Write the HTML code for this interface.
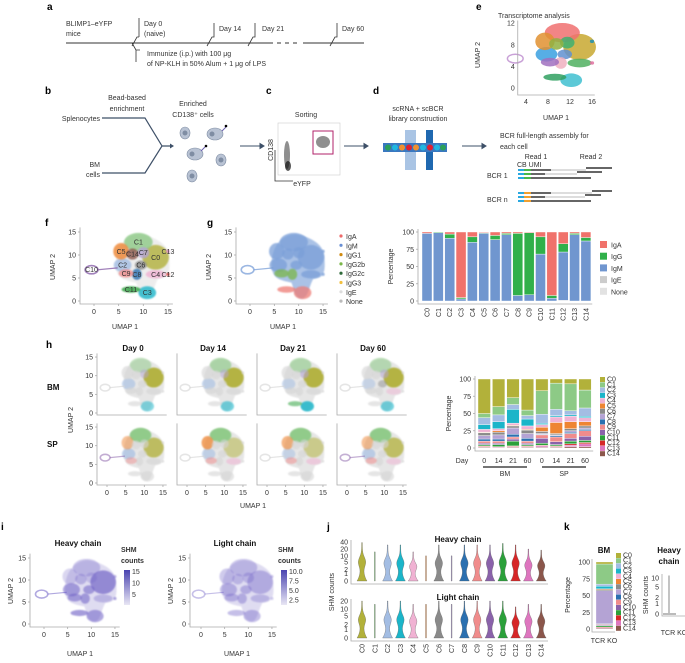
<!DOCTYPE html>
<html><head><meta charset="utf-8"><style>
html,body{margin:0;padding:0;background:#fff;}
svg{display:block;font-family:"Liberation Sans",sans-serif;}
text{fill:#333;font-size:7px;}
.lbl{font-weight:bold;font-size:10px;fill:#000;}
.ttl{font-weight:bold;font-size:8px;fill:#111;}
.ax{stroke:#aaa;stroke-width:0.8;fill:none;}
</style></head><body>
<svg id="fig" width="685" height="663" viewBox="0 0 685 663" xmlns="http://www.w3.org/2000/svg">
<defs><filter id="blur" x="-20%" y="-20%" width="140%" height="140%"><feGaussianBlur stdDeviation="0.8"/></filter></defs>
<!-- panel a -->
<g>
<text class="lbl" x="47" y="10">a</text>
<text x="66" y="26">BLIMP1–eYFP</text>
<text x="66" y="36">mice</text>
<path d="M66,43H273M277,43h4M285,43h4M293,43h4M303,43H364" stroke="#333" stroke-width="1" fill="none"/>
<path d="M132,46 L137,37 L139,37 M139,37 V18 M132,43 L136,50 V62 M136,50 H140" stroke="#333" stroke-width="0.8" fill="none"/>
<path d="M207,46 L212,37 L214,37 V23 M248,46 L253,37 L255,37 V23 M330,46 L335,37 L337,37 V23" stroke="#333" stroke-width="0.8" fill="none"/>
<text x="144" y="26">Day 0</text>
<text x="144" y="36">(naive)</text>
<text x="219" y="31">Day 14</text>
<text x="262" y="31">Day 21</text>
<text x="342" y="31">Day 60</text>
<text x="147" y="56">Immunize (i.p.) with 100 μg</text>
<text x="147" y="66">of NP-KLH in 50% Alum + 1 μg of LPS</text>
</g>
<!-- panel b -->
<g>
<text class="lbl" x="45" y="94">b</text>
<text x="127" y="100" text-anchor="middle">Bead-based</text>
<text x="127" y="111" text-anchor="middle">enrichment</text>
<text x="100" y="121" text-anchor="end">Splenocytes</text>
<text x="100" y="167" text-anchor="end">BM</text>
<text x="100" y="177" text-anchor="end">cells</text>
<path d="M102,118H145L162,146L145,173H102M162,146H170" stroke="#3e5068" stroke-width="1.2" fill="none"/>
<path d="M170,143.5L174,146L170,148.5Z" fill="#3e5068"/>
<text x="193" y="106" text-anchor="middle">Enriched</text>
<text x="193" y="117" text-anchor="middle">CD138⁺ cells</text>
<g fill="#b9c3d4" stroke="#7f8da3" stroke-width="0.6">
<ellipse cx="185" cy="133" rx="5" ry="6"/><ellipse cx="215" cy="134" rx="8" ry="6"/><ellipse cx="195" cy="154" rx="8" ry="6"/>
<ellipse cx="221" cy="160" rx="5" ry="6"/><ellipse cx="192" cy="176" rx="5" ry="6"/>
</g>
<g fill="#7f8da3">
<circle cx="185" cy="133" r="2.5"/><circle cx="212" cy="134" r="2.5"/><circle cx="192" cy="154" r="2.5"/><circle cx="221" cy="160" r="2.5"/><circle cx="192" cy="176" r="2.5"/>
</g>
<path d="M222,131l4,-4M201,151l4,-4" stroke="#6b5fb0" stroke-width="1"/>
<circle cx="226" cy="126" r="1.3" fill="#000"/><circle cx="206" cy="146" r="1.3" fill="#000"/>
<path d="M240,146H260M260,143.5L264,146L260,148.5Z" stroke="#3e5068" fill="#3e5068"/>
</g>
<!-- panel c -->
<g>
<text class="lbl" x="266" y="94">c</text>
<text x="306" y="117" text-anchor="middle">Sorting</text>
<rect x="278" y="123" width="62" height="52" fill="#fff" stroke="#ccc" stroke-width="0.6"/>
<ellipse cx="287" cy="155" rx="3" ry="14" fill="#333" opacity="0.55"/><ellipse cx="288" cy="166" rx="3" ry="5" fill="#111" opacity="0.7"/>
<ellipse cx="323" cy="142" rx="7" ry="6" fill="#444" opacity="0.6"/>
<rect x="313" y="131" width="20" height="23" fill="none" stroke="#b0226a" stroke-width="1"/>
<path d="M275,150V181H293" stroke="#333" fill="none" stroke-width="0.8"/>
<text transform="translate(273,150) rotate(-90)" text-anchor="middle">CD138</text>
<text x="302" y="186" text-anchor="middle">eYFP</text>
<path d="M344,146H364M364,143.5L368,146L364,148.5Z" stroke="#3e5068" fill="#3e5068"/>
</g>
<!-- panel d -->
<g>
<text class="lbl" x="373" y="94">d</text>
<text x="418" y="111" text-anchor="middle">scRNA + scBCR</text>
<text x="418" y="121" text-anchor="middle">library construction</text>
<rect x="405" y="130" width="11" height="40" fill="#a9c4e4"/>
<rect x="426" y="130" width="7" height="40" fill="#1f68b0"/>
<rect x="383" y="143" width="64" height="9" fill="#3a78c0"/>
<g>
<circle cx="388" cy="147.5" r="3" fill="#2aa05a"/><circle cx="395" cy="147.5" r="3" fill="#1fb7e0"/><circle cx="402" cy="147.5" r="3" fill="#f09030"/><circle cx="409" cy="147.5" r="3" fill="#e02030"/><circle cx="416" cy="147.5" r="3" fill="#f09030"/><circle cx="423" cy="147.5" r="3" fill="#1fb7e0"/><circle cx="430" cy="147.5" r="3" fill="#e02030"/><circle cx="437" cy="147.5" r="3" fill="#1fb7e0"/><circle cx="443" cy="147.5" r="3" fill="#2aa05a"/>
</g>
<path d="M462,146H482M482,143.5L486,146L482,148.5Z" stroke="#3e5068" fill="#3e5068"/>
<text x="500" y="138">BCR full-length assembly for</text>
<text x="500" y="149">each cell</text>
<text x="536" y="159" text-anchor="middle">Read 1</text>
<text x="591" y="159" text-anchor="middle">Read 2</text>
<text x="517" y="167" font-size="5.5">CB UMI</text>
<text x="487" y="178" font-size="5.5">BCR 1</text>
<text x="487" y="202" font-size="5.5">BCR n</text>
<g stroke-width="2">
<path d="M518,170h6M518,174h6M518,178h6M518,193h6M518,197h6M518,201h6" stroke="#29a8e0"/>
<path d="M524,170h7M524,174h7M524,178h7" stroke="#48b848"/>
<path d="M524,193h7M524,197h7M524,201h7" stroke="#f0a030"/>
<path d="M531,170h20M531,174h14M531,178h60M531,193h20M531,197h14M531,201h60M586,168h26M577,172h25M592,191h20M585,195h16" stroke="#666"/>
<path d="M551,170h35M545,174h32M551,193h41M545,197h40" stroke="#bbb" stroke-width="1"/>
</g>
</g>
<!-- panel e -->
<g id="panelE">
<text class="lbl" x="476" y="10">e</text>
<text x="498" y="18" font-size="8">Transcriptome analysis</text>
<text transform="translate(480,55) rotate(-90)" text-anchor="middle">UMAP 2</text>
<text x="556" y="120" text-anchor="middle">UMAP 1</text>
</g>
<text class="lbl" x="45" y="226">f</text>
<text class="lbl" x="207" y="226">g</text>
<text class="lbl" x="46" y="348">h</text>
<text class="lbl" x="1" y="530">i</text>
<text class="lbl" x="327" y="530">j</text>
<text class="lbl" x="564" y="530">k</text>
<g id="dyn"></g>
</svg>
<script>
// ---------- data ----------
const clusterNames = ['C0','C1','C2','C3','C4','C5','C6','C7','C8','C9','C10','C11','C12','C13','C14'];
const clusterColors = ['#b2b13a','#8dca86','#a3bde3','#1bb5c9','#f0b2d3','#ee8533','#8a8a8a','#b4a3d4','#2b70b0','#f08c8c','#8a62aa','#2ba03a','#d62728','#de76bf','#8b564b'];
const umapX = [12.5,9,5.8,10.8,12.5,5.5,9.5,10,8.7,6.5,-0.5,7.5,15,15,7.8];
const umapY = [9.5,12.8,7.8,1.8,5.8,10.8,7.8,10.5,5.8,6,6.8,2.5,5.8,10.8,10.2];
const umapRX = [2.7,2.9,1.8,1.8,2.0,1.6,1.2,1.2,1.0,1.5,1.3,1.9,0.35,0.35,1.2];
const umapRY = [2.7,2.0,1.5,1.4,0.9,1.8,1.0,1.2,1.2,0.9,0.9,0.7,0.35,0.35,1.2];
const isoIgM = [98,99,91,3,85,98,89,96,8,9,68,4,70,96,87];
const isoIgG = [0,1,6,2,8,1,6,2,90,90,25,4,12,2,5];
const isoIgA = [2,0,3,95,7,1,5,2,2,1,7,92,17,2,8];
const isoTicks = [0,25,50,75,100];
const compGroups = ['0','14','21','60','0','14','21','60'];
const compBM0  = [50,6,10,7,4,1,4,5,3,3,2,2,1,1,1];
const compBM14 = [40,12,10,10,3,2,4,6,3,3,2,3,1,1,0];
const compBM21 = [27,10,7,20,3,1,3,9,4,3,3,7,1,1,1];
const compBM60 = [45,8,5,10,5,1,5,7,4,3,2,2,1,1,1];
const compSP0  = [17,34,13,2,4,6,3,1,1,5,7,3,1,2,1];
const compSP14 = [6,38,9,2,8,16,2,1,2,7,4,2,1,1,1];
const compSP21 = [7,39,6,2,8,10,3,2,2,7,4,4,2,2,2];
const compSP60 = [16,26,12,2,6,6,3,2,2,8,6,3,2,4,2];
const compTCRKO = [3,30,3,4,0,1,2,49,1,1,1,2,1,1,1];
const shmHeavyMax = [38,15,30,30,15,10,30,10,30,30,30,35,30,20,18];
const shmLightMax = [20,15,20,20,15,15,20,15,20,20,20,20,12,15,15];
const shmHeavyTicks = [0,1,2,5,10,20,40];
const shmLightTicks = [0,1,2,5,10,20];
const tcrKoShmTicks = [0,1,2,5,10];
const umapTicks = [0,5,10,15];

const NS='http://www.w3.org/2000/svg';
const root=document.getElementById('dyn');
function mk(tag,attrs,parent){const e=document.createElementNS(NS,tag);for(const k in attrs)e.setAttribute(k,attrs[k]);(parent||root).appendChild(e);return e;}
function txt(s,attrs,parent){const t=mk('text',attrs,parent);t.textContent=s;return t;}

function umap(name,ox,oy,sx,sy,colorFn,opFn,opts){
  const g=mk('g',{});
  
  
  const px=v=>ox+v*sx, py=v=>oy-v*sy;
  const bgc=(opts&&opts.bg)||'#e4e4e4';
  const bgo=(opts&&opts.bgo)||0.6;
  const bgp=`M${px(4.5)},${py(7)} C${px(4)},${py(12)} ${px(7)},${py(14.8)} ${px(9.5)},${py(14.5)} C${px(12)},${py(14)} ${px(15.5)},${py(12.5)} ${px(15.3)},${py(9)} C${px(15.5)},${py(6)} ${px(15)},${py(5)} ${px(13)},${py(4.8)} C${px(12)},${py(3)} ${px(12)},${py(0.5)} ${px(10.5)},${py(0.6)} C${px(9)},${py(0.8)} ${px(9)},${py(3)} ${px(8.5)},${py(4)} C${px(6)},${py(4.5)} ${px(4.8)},${py(5)} ${px(4.5)},${py(7)}Z`;
  const bg=mk('path',{d:bgp,fill:bgc,opacity:bgo,filter:'url(#blur)'},g);
  
  
  for(let i=0;i<clusterNames.length;i++){
    const c=colorFn(i), o=opFn(i);
    let e;
    if(i===10){
      e=mk('ellipse',{cx:px(umapX[i]),cy:py(umapY[i]),rx:umapRX[i]*sx,ry:umapRY[i]*sy,fill:'none',stroke:c,'stroke-width':1.6,opacity:o},g);
      mk('line',{x1:px(umapX[i]+umapRX[i]),y1:py(umapY[i]),x2:px(umapX[2]-1),y2:py(umapY[2]-0.6),stroke:c,'stroke-width':1.2,opacity:o},g);
    } else {
      e=mk('ellipse',{cx:px(umapX[i]),cy:py(umapY[i]),rx:umapRX[i]*sx,ry:umapRY[i]*sy,fill:c,opacity:o,filter:'url(#blur)'},g);
    }
    
    
    if(opts&&opts.labels){ const t=txt(clusterNames[i],{x:px(umapX[i]),y:py(umapY[i])+2.5,'text-anchor':'middle','font-size':6.5,style:'fill:#333'},g);
      
       }
  }
  if(opts&&opts.axes){
    const a=opts.axes;
    mk('path',{d:`M${a.x},${py(16)}V${a.y}H${px(16)}`,class:'ax'},g);
    if(a.yt) umapTicks.forEach(v=>{mk('line',{x1:a.x-2,x2:a.x,y1:py(v),y2:py(v),class:'ax'},g);txt(String(v),{x:a.x-4,y:py(v)+2.5,'text-anchor':'end'},g);});
    if(a.xt) umapTicks.forEach(v=>{mk('line',{x1:px(v),x2:px(v),y1:a.y,y2:a.y+2,class:'ax'},g);txt(String(v),{x:px(v),y:a.y+10,'text-anchor':'middle'},g);});
  }
  return {g,px,py};
}
// panel e
(function(){
  const sx=5.5, sy=5.4, ox=526-4*sx, oy=88;
  const g=document.getElementById('panelE');
  const px=v=>ox+v*sx, py=v=>oy-v*sy;
  const eCols=['#c8a830','#f07070','#3aa0e0','#40c0d0','#50b060','#e09030','#6090d0','#40b070','#f0b0c0','#a070c0','#c090d0','#30a060','#e070a0','#2090b0','#90b040'];
  for(let i=0;i<15;i++){
    const e=mk('ellipse',{cx:px(umapX[i]*0.9+2.5),cy:py(umapY[i]*0.8),rx:umapRX[i]*sx*1.1,ry:umapRY[i]*sy*0.9,fill:i===10?'none':eCols[i],stroke:i===10?eCols[i]:'none','stroke-width':1.5,opacity:0.85},g);
    
    
  }
  mk('path',{d:`M${px(2.5)},${py(12.5)}V95H${px(16.5)}`,class:'ax'},g);
  [0,4,8,12].forEach(v=>txt(String(v),{x:px(2.5)-3,y:py(v)+2.5,'text-anchor':'end'},g));
  [4,8,12,16].forEach(v=>txt(String(v),{x:px(v),y:104,'text-anchor':'middle'},g));
})();
// panel f
umap('panel-f-umap-clusters',94,301,4.93,4.6,i=>clusterColors[i],()=>0.8,{labels:true,bg:'#ddd',bgo:0.5,axes:{x:80,y:304,xt:true,yt:true}});
txt('UMAP 1',{x:125,y:329,'text-anchor':'middle'});
txt('UMAP 2',{transform:'translate(55,267) rotate(-90)','text-anchor':'middle'});
// panel g UMAP
const isoCol=i=> isoIgA[i]>50?'#ee7b74':(isoIgG[i]>50?'#7ab648':'#7a9fd8');
umap('panel-g-umap-isotype',250,301,4.87,4.6,isoCol,()=>0.75,{bg:'#8eaede',bgo:0.75,axes:{x:236,y:304,xt:true,yt:true}});
txt('UMAP 1',{x:283,y:329,'text-anchor':'middle'});
txt('UMAP 2',{transform:'translate(211,267) rotate(-90)','text-anchor':'middle'});
const isoLegNames=['IgA','IgM','IgG1','IgG2b','IgG2c','IgG3','IgE','None'];
const isoLegCols=['#ee6a6a','#6a90d4','#d08a10','#7ab648','#2f6a3a','#f2c040','#ddd','#bbb'];
isoLegNames.forEach((n,k)=>{const c=mk('circle',{cx:341,cy:236+k*9.3,r:1.6,fill:isoLegCols[k]});
  
  
  txt(n,{x:346,y:239+k*9.3,'font-size':7.5});});

// ---------- panel g bar chart ----------
(function(){
  const x0=422, step=11.35, bw=10, y0=301, y100=232;
  const ys=v=>y0-(v/100)*(y0-y100);
  const g=mk('g',{});
  
  
  mk('path',{d:`M${x0-4},${y100-3}V${y0+3}H${x0+step*15}`,class:'ax'},g);
  isoTicks.forEach(v=>{mk('line',{x1:x0-6,x2:x0-4,y1:ys(v),y2:ys(v),class:'ax'},g);txt(String(v),{x:x0-8,y:ys(v)+2.5,'text-anchor':'end'},g);});
  txt('Percentage',{transform:`translate(393,${(y0+y100)/2}) rotate(-90)`,'text-anchor':'middle'},g);
  clusterNames.forEach((c,i)=>{
    const x=x0+i*step;
    const other=100-isoIgM[i]-isoIgG[i]-isoIgA[i];
    const segs=[[other,'#ddd','none'],[isoIgM[i],'#7096cf','igm'],[isoIgG[i],'#30b04a','igg'],[isoIgA[i],'#f0726b','iga']];
    let acc=0;
    segs.forEach(s=>{ if(s[0]<=0)return; const r=mk('rect',{x:x,y:ys(acc+s[0]),width:bw,height:ys(acc)-ys(acc+s[0]),fill:s[1],stroke:'#fff','stroke-width':0.4},g);
      
      
      acc+=s[0];});
    txt(c,{transform:`translate(${x+bw/2+2.5},${y0+7}) rotate(-90)`,'text-anchor':'end','font-size':7.5},g);
  });
  const ln=['IgA','IgG','IgM','IgE','None'], lc=['#f0726b','#30b04a','#7096cf','#ccc','#e2e2e2'];
  ln.forEach((n,k)=>{const r=mk('rect',{x:600,y:241+k*11.7,width:7,height:7,fill:lc[k]},g);
    
    
    txt(n,{x:611,y:247.5+k*11.7,'font-size':7.5},g);});
})();

// ---------- panel h ----------
const compAll=[compBM0,compBM14,compBM21,compBM60,compSP0,compSP14,compSP21,compSP60];
const dayTitles=['Day 0','Day 14','Day 21','Day 60'];
dayTitles.forEach((d,k)=>{
  const t=txt(d,{x:133+k*80,y:351,'text-anchor':'middle',class:'ttl'});
  
  
  [0,1].forEach(r=>{
    const comp=compAll[r*4+k];
    const oy=r===0?413:483;
    umap('h-umap-'+(r?'sp':'bm')+'-'+k,107+k*80,oy,3.73,3.73,
      i=>comp[i]>=5?clusterColors[i]:'#d4d4d4', i=>comp[i]>=5?Math.min(0.95,0.35+comp[i]/40):0.6,
      {bg:'#dcdcdc',bgo:0.7,axes:{x:97+k*80,y:oy+2,xt:r===1,yt:k===0}});
  });
});
txt('BM',{x:47,y:390,class:'ttl'});
txt('SP',{x:47,y:447,class:'ttl'});
txt('UMAP 1',{x:253,y:508,'text-anchor':'middle'});
txt('UMAP 2',{transform:'translate(73,420) rotate(-90)','text-anchor':'middle'});
(function(){
  const x0=478, step=14.4, bw=12.5, y0=448, y100=379;
  const ys=v=>y0-(v/100)*(y0-y100);
  const g=mk('g',{});
  
  
  mk('path',{d:`M${x0-3},${y100-3}V${y0+3}H${x0+step*8}`,class:'ax'},g);
  isoTicks.forEach(v=>{mk('line',{x1:x0-5,x2:x0-3,y1:ys(v),y2:ys(v),class:'ax'},g);txt(String(v),{x:x0-7,y:ys(v)+2.5,'text-anchor':'end'},g);});
  txt('Percentage',{transform:`translate(451,${(y0+y100)/2}) rotate(-90)`,'text-anchor':'middle'},g);
  compAll.forEach((comp,b)=>{
    const x=x0+b*step; let acc=0;
    for(let i=14;i>=0;i--){ if(comp[i]<=0)continue;
      const r=mk('rect',{x:x,y:ys(acc+comp[i]),width:bw,height:ys(acc)-ys(acc+comp[i]),fill:clusterColors[i],stroke:'#fff','stroke-width':0.4},g);
      
      
      acc+=comp[i];}
    txt(compGroups[b],{x:x+bw/2,y:463,'text-anchor':'middle'},g);
  });
  txt('Day',{x:462,y:463,'text-anchor':'middle'},g);
  mk('path',{d:'M483,467H527M542,467H586',stroke:'#222','stroke-width':1.2},g);
  txt('BM',{x:505,y:476,'text-anchor':'middle'},g);
  txt('SP',{x:564,y:476,'text-anchor':'middle'},g);
  clusterNames.forEach((c,i)=>{const r=mk('rect',{x:600,y:377+i*5.3,width:5,height:5,fill:clusterColors[i]},g);
    
    
    txt(c,{x:607,y:381.5+i*5.3,'font-size':5.5},g);});
})();

// ---------- panel i ----------
[['Heavy chain',44,30,['15','10','5'],shmHeavyMax],['Light chain',201,190,['10.0','7.5','5.0','2.5'],shmLightMax]].forEach((p,k)=>{
  const [title,ox,axX,cbt,mx]=p;
  const t=txt(title,{x:ox+34,y:546,'text-anchor':'middle',class:'ttl'});
  
  
  umap('i-umap-'+(k?'light':'heavy'),ox,624,4.73,4.4,()=>'#6b5cc4',i=>0.1+mx[i]/70,{bg:'#d8d4ee',bgo:0.8,axes:{x:axX,y:627,xt:true,yt:true}});
  txt('UMAP 1',{x:ox+36,y:656,'text-anchor':'middle'});
  txt('UMAP 2',{transform:`translate(${axX-17},591) rotate(-90)`,'text-anchor':'middle'});
  const cx=ox+80;
  txt('SHM',{x:cx-3,y:552,'font-weight':'bold'});txt('counts',{x:cx-3,y:563,'font-weight':'bold'});
  const gr=mk('linearGradient',{id:'cb'+k,x1:0,y1:0,x2:0,y2:1});
  mk('stop',{offset:0,'stop-color':'#4a44b0'},gr);mk('stop',{offset:1,'stop-color':'#e8e6f4'},gr);
  const cb=mk('rect',{x:cx,y:570,width:6,height:35,fill:`url(#cb${k})`});
  
  
  cbt.forEach((s,j)=>txt(s,{x:cx+8,y:574+j*(k?9.5:11.5),'font-size':7}));
});

// ---------- panel j ----------
function violins(title,y0,ytop,ticks,tmax,mx,tY){
  const g=mk('g',{});
  
  
  const ys=v=>y0-Math.log(1+v)/Math.log(1+tmax)*(y0-ytop);
  txt(title,{x:458,y:tY,'text-anchor':'middle',class:'ttl'},g);
  mk('path',{d:`M351,${ytop-2}V${y0+3}H548`,class:'ax'},g);
  ticks.forEach(v=>txt(String(v),{x:348,y:ys(v)+2.5,'text-anchor':'end','font-size':6.5},g));
  clusterNames.forEach((c,i)=>{
    const cx=362+i*12.8, top=ys(mx[i]);
    let d;
    if(i===1||i===5||i===7){ d=`M${cx-0.4},${y0}V${top}h0.8V${y0}Z`; }
    else{
      const pts=[], N=20;
      for(let s=0;s<=N;s++){const t=s/N; const w=5.5*(0.85*Math.exp(-t*5)+0.55*Math.exp(-Math.pow(t-0.5,2)/0.03))+0.3; pts.push([w,y0-(y0-top)*t]);}
      d='M'+pts.map(p=>`${cx+p[0]},${p[1]}`).join('L')+'L'+pts.reverse().map(p=>`${cx-p[0]},${p[1]}`).join('L')+'Z';
    }
    const v=mk('path',{d:d,fill:clusterColors[i],stroke:'#555','stroke-width':0.3},g);
    
    
  });
}
violins('Heavy chain',581,542,shmHeavyTicks,40,shmHeavyMax,542);
violins('Light chain',638,601,shmLightTicks,20,shmLightMax,600);
txt('SHM counts',{transform:'translate(334,592) rotate(-90)','text-anchor':'middle','font-size':7.5});
clusterNames.forEach((c,i)=>txt(c,{transform:`translate(${364.5+i*12.8},644) rotate(-90)`,'text-anchor':'end','font-size':7.5}));

// ---------- panel k ----------
(function(){
  const g=mk('g',{});
  
  
  const y0=629,y100=562,x=596,bw=17;
  const ys=v=>y0-(v/100)*(y0-y100);
  txt('BM',{x:604,y:553,'text-anchor':'middle',class:'ttl'},g);
  mk('path',{d:`M592,${y100-3}V${y0+3}H615`,class:'ax'},g);
  isoTicks.forEach(v=>txt(String(v),{x:590,y:ys(v)+2.5,'text-anchor':'end'},g));
  txt('Percentage',{transform:'translate(570,595) rotate(-90)','text-anchor':'middle','font-size':7.5},g);
  let acc=0;
  for(let i=14;i>=0;i--){ if(compTCRKO[i]<=0)continue;
    const r=mk('rect',{x:x,y:ys(acc+compTCRKO[i]),width:bw,height:ys(acc)-ys(acc+compTCRKO[i]),fill:clusterColors[i],stroke:'#fff','stroke-width':0.3},g);
    
    
    acc+=compTCRKO[i];}
  txt('TCR KO',{x:604,y:643,'text-anchor':'middle'},g);
  clusterNames.forEach((c,i)=>{mk('rect',{x:616,y:553+i*5.2,width:5,height:5,fill:clusterColors[i]},g);
    txt(c,{x:623,y:557.5+i*5.2,'font-size':5},g);});
  txt('Heavy',{x:669,y:553,'text-anchor':'middle',class:'ttl'},g);
  txt('chain',{x:669,y:564,'text-anchor':'middle',class:'ttl'},g);
  const ks=v=>614-Math.log(1+v)/Math.log(11)*(614-578);
  mk('path',{d:'M662,574V616H685',class:'ax'},g);
  tcrKoShmTicks.forEach(v=>txt(String(v),{x:659,y:ks(v)+2.5,'text-anchor':'end'},g));
  txt('SHM counts',{transform:'translate(648,595) rotate(-90)','text-anchor':'middle','font-size':7.5},g);
  mk('path',{d:`M669,${ks(12)}V${ks(0)}`,stroke:'#555','stroke-width':0.7},g);
  mk('rect',{x:663,y:ks(0)-1,width:13,height:2,fill:'#bbb'},g);
  txt('TCR KO',{x:674,y:635,'text-anchor':'middle'},g);
})();
</script>
</body></html>
